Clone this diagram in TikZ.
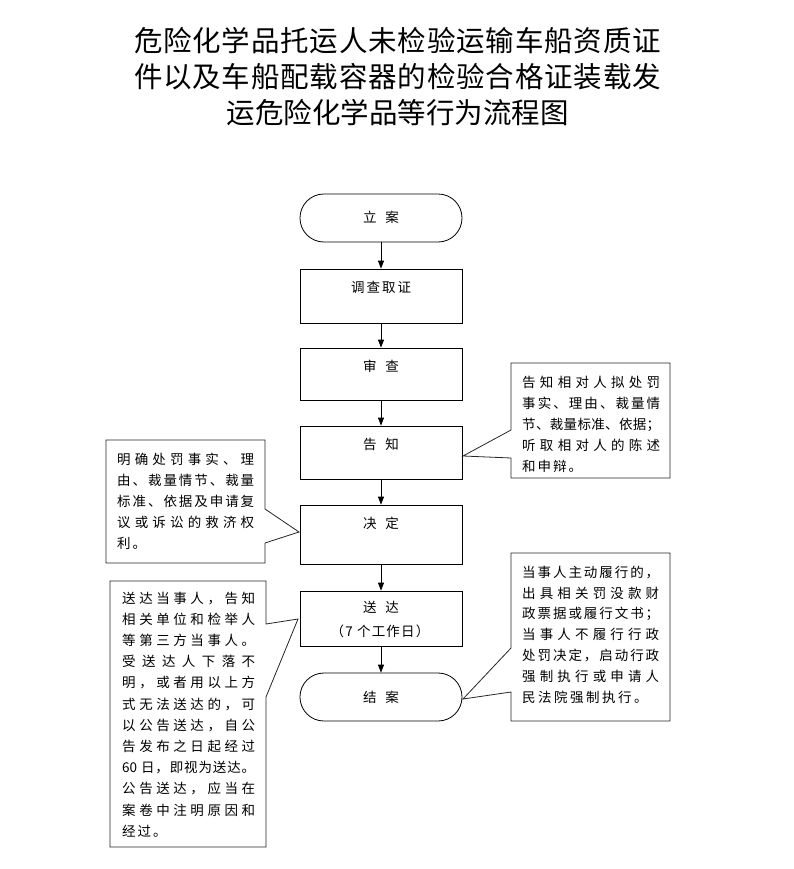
\documentclass[tikz,border=0pt]{standalone}
\usepackage{fontspec}
\newfontfamily\cjk{Noto Sans CJK SC}
\usetikzlibrary{arrows.meta}
\ExplSyntaxOn
\NewDocumentCommand\jline{mm}{\hbox~to~#1{\tl_map_inline:nn{#2}{##1\hskip~0pt~plus~1fil~minus~1fil\relax}\unskip}}
\NewDocumentCommand\natl{O{2pt}m}{\hbox{\tl_map_inline:nn{#2}{##1\kern~#1\relax}\unkern}}
\ExplSyntaxOff
\begin{document}
\begin{tikzpicture}[x=1pt,y=-1pt,
 box/.style={draw=black,line width=0.8pt,minimum width=162pt,inner sep=0pt},
 stad/.style={box,rounded corners=23.9pt},
 arr/.style={-{Triangle[width=6pt,length=8pt]},line width=0.8pt},
 callout/.style={draw=black!85,line width=0.8pt,line join=miter},
 mt/.style={font={\cjk\fontsize{13.5}{16}\selectfont},inner sep=0pt},
 ct/.style={align=left,inner sep=0pt,anchor=west},
 tt/.style={font={\cjk\fontsize{28.5}{34}\selectfont},inner sep=0pt}]
\useasboundingbox[fill=white] (0,0) rectangle (793,869);

% title
\node[tt] (title1) at (397.5,41) {\jline{527pt}{危险化学品托运人未检验运输车船资质证}};
\node[tt] (title2) at (397.5,77) {\jline{527pt}{件以及车船配载容器的检验合格证装载发}};
\node[tt] (title3) at (397.5,113) {运危险化学品等行为流程图};

% main column
\node[stad,minimum height=48pt] (lian) at (381,218) {};
\node[box,minimum height=54pt] (dc) at (381,296) {};
\node[box,minimum height=52pt] (sc) at (381,374) {};
\node[box,minimum height=53pt] (gz) at (381,452.5) {};
\node[box,minimum height=59pt] (jd) at (381,534.5) {};
\node[box,minimum height=55pt] (sd) at (381,618.5) {};
\node[stad,minimum height=48pt] (ja) at (381,697) {};

\node[mt] (tlian) at (381,217) {立\hspace{9pt}案};
\node[mt] (tdc) at (381,287) {\natl{调查取证}};
\node[mt] (tsc) at (381,366) {审\hspace{9pt}查};
\node[mt] (tgz) at (381,444) {告\hspace{9pt}知};
\node[mt] (tjd) at (381,523) {决\hspace{9pt}定};
\node[mt] (tsd) at (381,607) {送\hspace{9pt}达};
\node[mt] (tsd2) at (380,631) {\natl[1.2pt]{（{7\ }个工作日）}};
\node[mt] (tja) at (381,697) {结\hspace{9pt}案};

\draw[arr] (lian.south) -- (dc.north);
\draw[arr] (dc.south) -- (sc.north);
\draw[arr] (sc.south) -- (gz.north);
\draw[arr] (gz.south) -- (jd.north);
\draw[arr] (jd.south) -- (sd.north);
\draw[arr] (sd.south) -- (ja.north);

% callouts
\draw[callout] (511,363) -- (670,363) -- (670,478) -- (511,478) -- (511,458) -- (463,456) -- (511,430) -- cycle;
\draw[callout] (106,440) -- (265,440) -- (265,509) -- (299,532) -- (265,543) -- (265,563) -- (106,563) -- cycle;
\draw[callout] (110,581) -- (266,581) -- (266,624) -- (298,619) -- (266,697) -- (266,847) -- (110,847) -- cycle;
\draw[callout] (511,553) -- (670,553) -- (670,721) -- (511,721) -- (511,692) -- (463,699) -- (511,648) -- cycle;

\node[ct,font={\cjk\fontsize{13.5}{21}\selectfont}] (c1) at (522,424) {%
\jline{138pt}{告知相对人拟处罚}\\
\jline{138pt}{事实、理由、裁量情}\\
\jline{138pt}{节、裁量标准、依据；}\\
\jline{138pt}{听取相对人的陈述}\\
\natl{和申辩。}};

\node[ct,font={\cjk\fontsize{13.5}{21}\selectfont}] (c2) at (117,501) {%
\jline{137pt}{明确处罚事实、理}\\
\jline{137pt}{由、裁量情节、裁量}\\
\jline{137pt}{标准、依据及申请复}\\
\jline{137pt}{议或诉讼的救济权}\\
\natl{利。}};

\node[ct,font={\cjk\fontsize{13.5}{21.2}\selectfont}] (c3) at (122,714.5) {%
\jline{133pt}{送达当事人，告知}\\
\jline{133pt}{相关单位和检举人}\\
\jline{133pt}{等第三方当事人。}\\
\jline{133pt}{受送达人下落不}\\
\jline{133pt}{明，或者用以上方}\\
\jline{133pt}{式无法送达的，可}\\
\jline{133pt}{以公告送达，自公}\\
\jline{133pt}{告发布之日起经过}\\
\jline{133pt}{{60\ }日，即视为送达。}\\
\jline{133pt}{公告送达，应当在}\\
\jline{133pt}{案卷中注明原因和}\\
\natl{经过。}};

\node[ct,font={\cjk\fontsize{13.5}{20.8}\selectfont}] (c4) at (522,634.5) {%
\jline{137pt}{当事人主动履行的，}\\
\jline{137pt}{出具相关罚没款财}\\
\jline{137pt}{政票据或履行文书；}\\
\jline{137pt}{当事人不履行行政}\\
\jline{137pt}{处罚决定，启动行政}\\
\jline{137pt}{强制执行或申请人}\\
\natl[2.5pt]{民法院强制执行。}};
\end{tikzpicture}
\end{document}
